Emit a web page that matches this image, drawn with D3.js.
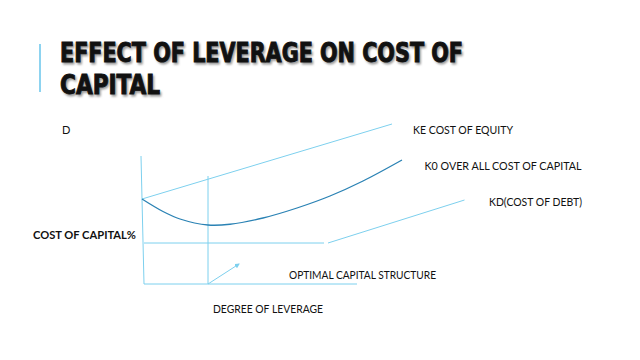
<!DOCTYPE html>
<html><head><meta charset="utf-8">
<script src="https://cdn.jsdelivr.net/npm/d3@7"></script>
<style>
html,body{margin:0;padding:0;background:#fff;}
svg{display:block;}
</style></head>
<body>
<svg id="c" width="640" height="360"></svg>
<script>
// ---- data (leverage units, cost %) ----
const titleLines = ["EFFECT OF LEVERAGE ON COST OF", "CAPITAL"];
const keLev = [0, 100];
const keCost = [17, 32];
const k0Lev = [0, 8.4, 15.2, 26.4, 35.2, 48.4, 62, 75.2, 88.4, 104];
const k0Cost = [17, 14.5, 13, 11.8, 11.95, 13.2, 15.2, 17.6, 20.6, 24.8];
const kdFlatLev = [0.8, 72.8];
const kdFlatCost = [8.2, 8.2];
const kdRiseLev = [74.4, 129];
const kdRiseCost = [8.2, 16.8];
const optimalLev = 26.4;
const optimalTop = 21.6;
const yAxisLev = [-0.4, 0.8];
const yAxisCost = [25.6, 0];
const xAxisEnd = 86;
const arrowLev = [26.4, 38.8];
const arrowCost = [0, 4];
const labels = [
  {text:"KE COST OF EQUITY", lev:108.4, cost:30, w:100},
  {text:"K0 OVER ALL COST OF CAPITAL", lev:113, cost:22.8, w:157},
  {text:"KD(COST OF DEBT)", lev:138.8, cost:15.6, w:93},
  {text:"OPTIMAL CAPITAL STRUCTURE", lev:58.8, cost:1, w:147},
  {text:"DEGREE OF LEVERAGE", lev:28.4, cost:-5.8, w:110}
];

const svg = d3.select("#c");
const x = d3.scaleLinear().domain([0, 100]).range([142, 392]);
const y = d3.scaleLinear().domain([0, 32]).range([284, 124]);

const light = "#7dd0ee";
const dark = "#2a82b4";

// title accent bar
svg.append("rect").attr("x",39).attr("y",44).attr("width",2).attr("height",48).attr("fill","#8dd3f0");
// title with shadow
const tf = "'Liberation Sans Narrow','Arial Narrow','DejaVu Sans Condensed',sans-serif";
const tw = [403, 100];
const defs = svg.append("defs");
defs.append("filter").attr("id","blur").append("feGaussianBlur").attr("stdDeviation",0.8);
titleLines.forEach((t,i)=>{
  const by = 62 + i*32;
  svg.append("text").attr("x",61.5).attr("y",by+1.5).attr("fill","#999").attr("stroke","#999").attr("stroke-width",0.8)
    .attr("filter","url(#blur)")
    .attr("font-family",tf).attr("font-weight","bold").attr("font-size",26)
    .attr("textLength",tw[i]).attr("lengthAdjust","spacingAndGlyphs").text(t);
  svg.append("text").attr("x",60).attr("y",by).attr("fill","#111").attr("stroke","#111").attr("stroke-width",0.9)
    .attr("font-family",tf).attr("font-weight","bold").attr("font-size",26)
    .attr("textLength",tw[i]).attr("lengthAdjust","spacingAndGlyphs").text(t);
});

const bodyFont = "'Lato','Open Sans',sans-serif";
svg.append("text").attr("x",62).attr("y",134).attr("font-family",bodyFont).attr("font-size",11).attr("fill","#111").text("D");

const line = d3.line().x(d=>x(d[0])).y(d=>y(d[1]));
const g = svg.append("g").attr("fill","none");

// axes
g.append("path").attr("d", line(d3.zip(yAxisLev, yAxisCost))).attr("stroke",light).attr("stroke-width",1);
g.append("path").attr("d", line([[yAxisLev[1],0],[xAxisEnd,0]])).attr("stroke",light).attr("stroke-width",1);
// optimal vertical
g.append("path").attr("d", line([[optimalLev,0],[optimalLev,optimalTop]])).attr("stroke",light).attr("stroke-width",1);
// KE
g.append("path").attr("d", line(d3.zip(keLev, keCost))).attr("stroke",light).attr("stroke-width",1);
// KD
g.append("path").attr("d", line(d3.zip(kdFlatLev, kdFlatCost))).attr("stroke",light).attr("stroke-width",1);
g.append("path").attr("d", line(d3.zip(kdRiseLev, kdRiseCost))).attr("stroke",light).attr("stroke-width",1);
// K0
g.append("path").attr("d", d3.line().x(d=>x(d[0])).y(d=>y(d[1])).curve(d3.curveCatmullRom)(d3.zip(k0Lev,k0Cost)))
  .attr("stroke",dark).attr("stroke-width",1.3);
// arrow
defs.append("marker").attr("id","ah").attr("viewBox","0 0 10 10").attr("refX",8).attr("refY",5)
  .attr("markerWidth",5).attr("markerHeight",5).attr("orient","auto")
  .append("path").attr("d","M0,0L10,5L0,10z").attr("fill",light);
g.append("path").attr("d", line(d3.zip(arrowLev, arrowCost))).attr("stroke",light).attr("stroke-width",1).attr("marker-end","url(#ah)");

// labels
labels.forEach(l=>{
  svg.append("text").attr("x",x(l.lev)).attr("y",y(l.cost)).attr("font-family",bodyFont).attr("font-size",11)
    .attr("fill","#111").attr("textLength",l.w).attr("lengthAdjust","spacingAndGlyphs").text(l.text);
});
svg.append("text").attr("x",33).attr("y",239).attr("font-family",bodyFont).attr("font-weight","bold").attr("font-size",10.5)
  .attr("fill","#111").attr("textLength",103).attr("lengthAdjust","spacingAndGlyphs").text("COST OF CAPITAL%");
</script>
</body></html>
